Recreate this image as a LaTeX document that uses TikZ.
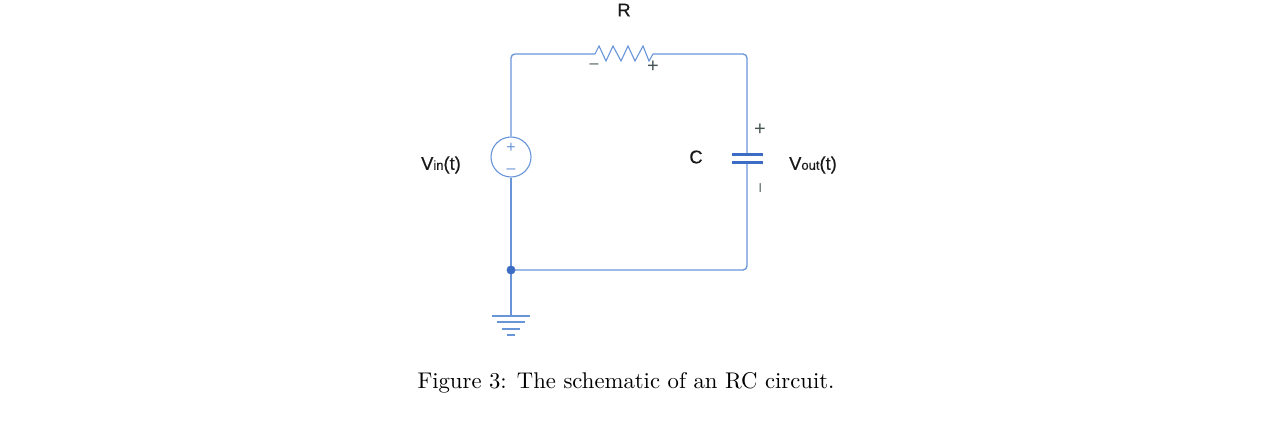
\documentclass[tikz,border=0pt]{standalone}
\usepackage{fontspec}
\setsansfont{Liberation Sans}
\newfontfamily\labelfont[FakeBold=0.35]{Liberation Sans}
\usepackage{tikz}
\usetikzlibrary{calc}
\definecolor{wireblue}{RGB}{104,148,216}
\definecolor{plateblue}{RGB}{60,108,196}
\definecolor{signgray}{RGB}{70,84,84}
\tikzset{wire/.style={draw=wireblue, line width=1.3pt, rounded corners=4pt}}
\tikzset{plate/.style={draw=plateblue, line width=3pt}}
\tikzset{label/.style={inner sep=0pt, text=black!90, font=\labelfont\fontsize{18.4}{20}\selectfont}}
\tikzset{sign/.style={inner sep=0pt, text=signgray, font=\sffamily\fontsize{20}{18}\selectfont}}
\tikzset{srcsign/.style={inner sep=0pt, text=wireblue, font=\sffamily\fontsize{16}{16}\selectfont}}
\newcommand{\subtxt}[1]{{\fontsize{13}{14}\selectfont #1}}

\begin{document}
\begin{tikzpicture}[x=1pt, y=-1pt]
\useasboundingbox (0, 0) rectangle (1284, 425);
\node[circle, draw=wireblue, line width=1.1pt, minimum size=40pt, inner sep=0pt] (src) at (511, 157) {};
\coordinate (resin) at (595, 54);
\coordinate (resout) at (653, 54);
\coordinate (capup) at (747, 154);
\coordinate (capdown) at (747, 162);
\coordinate (dot) at (511, 270);
\coordinate (gnd) at (511, 316);
% wires
\draw[wire] (src.north) -- (511, 54) -- (resin);
\draw[wire] (resout) -- (747, 54) -- (capup);
\draw[wire] (capdown) -- (747, 270) -- (dot);
\draw[wire] (src.south) -- (gnd);
\filldraw[fill=plateblue, draw=plateblue] (dot) circle (4.2);
% resistor
\draw[draw=wireblue, line width=1.1pt] (resin) -- (599, 46) -- (606, 61) -- (613, 46) -- (621, 61) -- (628, 46) -- (635, 61) -- (643, 46) -- (649, 61) -- (resout);
% capacitor
\draw[plate] (732, 154) -- (763, 154);
\draw[plate] (732, 162) -- (763, 162);
% ground
\draw[wire] (492, 316) -- (530, 316);
\draw[wire] (497, 322) -- (525, 322);
\draw[wire] (502, 329) -- (520, 329);
\draw[wire] (507, 335) -- (515, 335);
% labels
\node[label] (rlabel) at (624, 10) {R};
\node[label] (clabel) at (696, 157) {C};
\node[label] (vinlabel) at (441, 165) {V\subtxt{in}(t)};
\node[label] (voutlabel) at (813, 165) {V\subtxt{out}(t)};
\node[sign] (resminus) at (594, 66) {\fontsize{16}{14}\selectfont --};
\node[sign] (resplus) at (653, 67) {+};
\node[sign] (capplus) at (760, 130) {+};
\node[sign, rotate=90] (capminus) at (762, 188) {\fontsize{16}{14}\selectfont --};
\node[srcsign] (srcplus) at (511, 148) {+};
\node[srcsign] (srcminus) at (511, 171) {--};
\node[inner sep=0pt, font=\fontsize{10}{12}\selectfont, scale=2.27] (caption) at (626, 383) {Figure 3: The schematic of an RC circuit.};
\end{tikzpicture}
\end{document}
